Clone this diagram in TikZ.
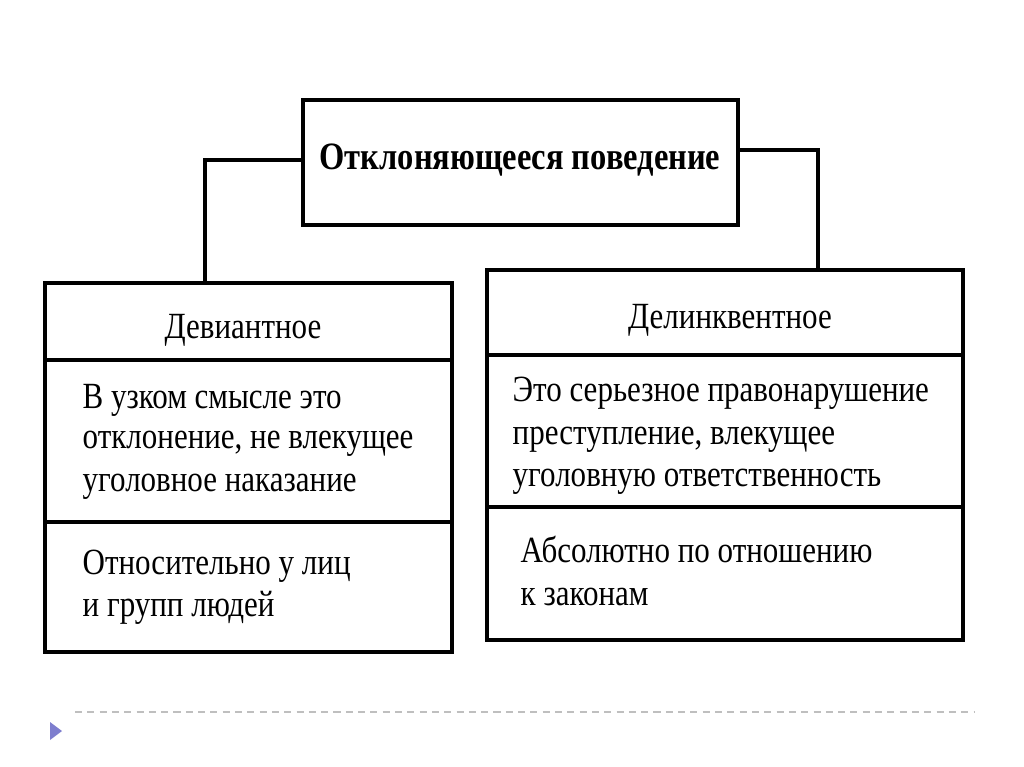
\documentclass[tikz,border=0pt]{standalone}
\usepackage{fontspec}
\setmainfont[FakeStretch=0.84]{Liberation Serif}
\usetikzlibrary{calc}
\tikzstyle{box}=[draw,line width=1.2pt]
\tikzstyle{txt}=[anchor=base west,inner sep=0pt,font=\fontsize{10.5}{12}\selectfont]
\begin{document}
\begin{tikzpicture}[x=0.01cm,y=-0.01cm]
\useasboundingbox (0,0) rectangle (1024,767);
% top box
\draw[box] (303,100) rectangle (738,225);
\node[inner sep=0pt,font=\fontsize{11}{13}\selectfont\bfseries] (top) at (520,160) {Отклоняющееся поведение};
% left and right blocks
\draw[box] (45,283) rectangle (452,652);
\draw[box] (45,360) -- (452,360);
\draw[box] (45,522) -- (452,522);
\draw[box] (487,270) rectangle (963,640);
\draw[box] (487,355) -- (963,355);
\draw[box] (487,507) -- (963,507);
\coordinate (tl) at (303,160);
\coordinate (tr) at (738,150);
\draw[box] (tl) -- (205,160) -- (205,283);
\draw[box] (tr) -- (818,150) -- (818,270);
\node[inner sep=0pt,font=\fontsize{10.5}{12}\selectfont] (dev) at (243,330) {Девиантное};
\node[inner sep=0pt,font=\fontsize{10.5}{12}\selectfont] (del) at (730,320) {Делинквентное};
\node[txt] (l1) at (82,408) {В узком смысле это};
\node[txt] (l2) at (82,448) {отклонение, не влекущее};
\node[txt] (l3) at (82,491) {уголовное наказание};
\node[txt] (l4) at (82,574) {Относительно у лиц};
\node[txt] (l5) at (82,616) {и групп людей};
\node[txt] (r1) at (512,401) {Это серьезное правонарушение};
\node[txt] (r2) at (512,444) {преступление, влекущее};
\node[txt] (r3) at (512,486) {уголовную ответственность};
\node[txt] (r4) at (520,562) {Абсолютно по отношению};
\node[txt] (r5) at (520,605) {к законам};
% slide footer
\draw[gray!50,dash pattern=on 2pt off 1.5pt] (75,712) -- (975,712);
\fill[blue!45!gray!70] (50,722) -- (62,731) -- (50,740) -- cycle;
\end{tikzpicture}
\end{document}
